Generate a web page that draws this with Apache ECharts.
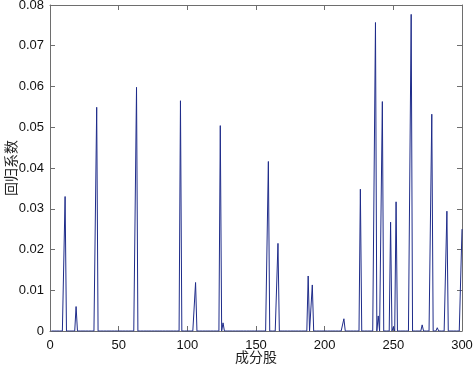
<!DOCTYPE html>
<html><head><meta charset="utf-8">
<script src="https://cdn.jsdelivr.net/npm/echarts@6/dist/echarts.min.js"></script>
<style>html,body{margin:0;padding:0;background:#fff}#c{width:474px;height:371px}</style>
</head><body><div id="c"></div>
<script>
// Stock index positions (1..300) with non-zero regression coefficients
const spikeIdx = [11, 19, 34, 63, 95, 106, 124, 126, 159, 166, 188, 191, 214, 226, 237, 239, 242, 248, 250, 252, 263, 271, 278, 282, 289, 300];
const spikeVal = [0.0330, 0.0060, 0.0549, 0.0598, 0.0565, 0.0119, 0.0504, 0.0020, 0.0416, 0.0215, 0.0135, 0.0113, 0.0030, 0.0348, 0.0757, 0.0037, 0.0563, 0.0267, 0.0010, 0.0317, 0.0777, 0.0015, 0.0532, 0.0008, 0.0294, 0.0250];
const xTicks = [0, 50, 100, 150, 200, 250, 300];
const yTicks = [0, 0.01, 0.02, 0.03, 0.04, 0.05, 0.06, 0.07, 0.08];
const nStocks = 300;

const coef = {};
spikeIdx.forEach((k, i) => { coef[k] = spikeVal[i]; });
const data = [];
for (let k = 1; k <= nStocks; k++) data.push([k, coef[k] || 0]);

const axisCol = '#6e6e6e';
const font = 'Liberation Sans, Arial, sans-serif';
const chart = echarts.init(document.getElementById('c'), null, {renderer: 'canvas'});
const baseX = {
  type: 'value', min: xTicks[0], max: xTicks[xTicks.length - 1], interval: 50,
  axisLine: {show: true, onZero: false, lineStyle: {color: axisCol, width: 1}},
  axisTick: {show: true, inside: true, length: 5, lineStyle: {color: axisCol}},
  splitLine: {show: false}
};
const baseY = {
  type: 'value', min: yTicks[0], max: yTicks[yTicks.length - 1], interval: 0.01,
  axisLine: {show: true, onZero: false, lineStyle: {color: axisCol, width: 1}},
  axisTick: {show: true, inside: true, length: 5, lineStyle: {color: axisCol}},
  splitLine: {show: false}
};
chart.setOption({
  animation: false,
  backgroundColor: '#fff',
  grid: {left: 50, right: 12, top: 5, bottom: 40, containLabel: false, outerBoundsMode: 'none'},
  xAxis: [
    Object.assign({}, baseX, {position: 'bottom', name: '成分股', nameLocation: 'middle', nameGap: 19,
      nameMoveOverlap: false,
      nameTextStyle: {color: '#222', fontSize: 14, fontFamily: 'Noto Sans CJK SC'},
      axisLabel: {show: true, color: '#111', fontSize: 13, fontFamily: font, margin: 8}}),
    Object.assign({}, baseX, {position: 'top', axisLabel: {show: false}})
  ],
  yAxis: [
    Object.assign({}, baseY, {position: 'left', name: '回归系数', nameLocation: 'middle', nameGap: 32,
      nameMoveOverlap: false,
      nameTextStyle: {color: '#222', fontSize: 14, fontFamily: 'Noto Sans CJK SC'},
      axisLabel: {show: true, color: '#111', fontSize: 13, fontFamily: font, margin: 6,
        formatter: v => String(+v.toFixed(2))}}),
    Object.assign({}, baseY, {position: 'right', axisLabel: {show: false}})
  ],
  series: [{
    type: 'line', data: data, xAxisIndex: 0, yAxisIndex: 0,
    showSymbol: false, symbol: 'none',
    lineStyle: {color: '#1f2c8a', width: 1},
    clip: true
  }]
});
</script></body></html>
